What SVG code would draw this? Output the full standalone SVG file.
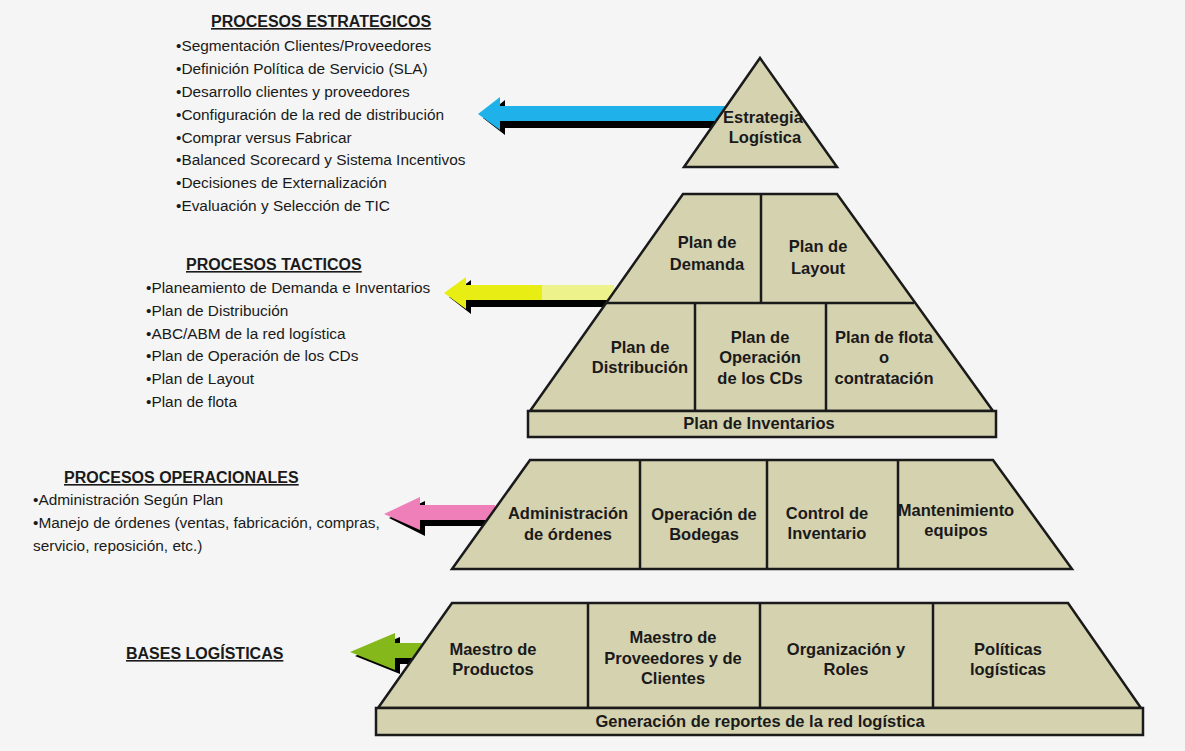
<svg xmlns="http://www.w3.org/2000/svg" width="1185" height="751" viewBox="0 0 1185 751">
<style>
.s{fill:#d5d2b0;stroke:#1a1a1a;stroke-width:2.5}
.d{stroke:#1a1a1a;stroke-width:2.5}
.t{font-family:"Liberation Sans",Arial,sans-serif;font-weight:bold;font-size:16.5px;fill:#1a1a1a;text-anchor:middle}
.l{font-family:"Liberation Sans",Arial,sans-serif;font-size:15.4px;fill:#1a1a1a}
.h{font-family:"Liberation Sans",Arial,sans-serif;font-weight:bold;font-size:16px;fill:#1a1a1a;text-decoration:underline}
</style>
<rect width="1185" height="751" fill="#f5f5f5"/>
<g id="connectors">
<path d="M500 108 L730 108 L730 124 L500 124 L500 131 L478 114 L500 96 Z" fill="#000" transform="translate(5,4)"/>
<path d="M500 106 L730 106 L730 121 L500 121 L500 130 L478 114 L500 97 Z" fill="#1fb2ea"/>
<path d="M466 287 L612 287 L612 303 L466 303 L466 310 L444 293 L466 276 Z" fill="#000" transform="translate(5,4)"/>
<path d="M466 285 L542 285 L542 300 L466 300 L466 309 L444 293 L466 277 Z" fill="#e8ee14"/>
<rect x="542" y="285" width="72" height="15" fill="#eef28a"/>
<path d="M420 507 L495 507 L495 522 L420 522 L420 532 L384 514 L420 497 Z" fill="#000" transform="translate(5,4)"/>
<path d="M420 505 L495 505 L495 520 L420 520 L420 530 L384 514 L420 497 Z" fill="#ee7fb8"/>
<path d="M395 645 L430 645 L430 660 L395 660 L395 670 L350 652 L395 633 Z" fill="#000" transform="translate(5,4)"/>
<path d="M395 643 L432 643 L432 658 L395 658 L395 670 L350 652 L395 633 Z" fill="#85b81a"/>
</g>
<g id="estrategia">
<path class="s" d="M760 58 L837 167 L684 167 Z"/>
<text class="t" x="763" y="123">Estrategia</text><text class="t" x="765" y="143">Logística</text>
</g>
<g id="tactico">
<path class="s" d="M683 194 L837 194 L993 411 L530 411 Z"/>
<line class="d" x1="606" y1="303" x2="914" y2="303"/>
<line class="d" x1="761" y1="194" x2="761" y2="303"/>
<line class="d" x1="695" y1="303" x2="695" y2="411"/>
<line class="d" x1="826" y1="303" x2="826" y2="411"/>
<rect class="s" x="528" y="411" width="468" height="26"/>
<text class="t" x="707" y="248">Plan de</text><text class="t" x="707" y="270">Demanda</text>
<text class="t" x="818" y="252">Plan de</text><text class="t" x="818" y="274">Layout</text>
<text class="t" x="640" y="353">Plan de</text><text class="t" x="640" y="373">Distribución</text>
<text class="t" x="760" y="343">Plan de</text><text class="t" x="760" y="363">Operación</text><text class="t" x="760" y="384">de los CDs</text>
<text class="t" x="884" y="343">Plan de flota</text><text class="t" x="884" y="363">o</text><text class="t" x="884" y="384">contratación</text>
<text class="t" x="759" y="429">Plan de Inventarios</text>
</g>
<g id="operacional">
<path class="s" d="M530 460 L993 460 L1072 569 L452 569 Z"/>
<line class="d" x1="640" y1="460" x2="640" y2="569"/>
<line class="d" x1="767" y1="460" x2="767" y2="569"/>
<line class="d" x1="898" y1="460" x2="898" y2="569"/>
<text class="t" x="568" y="519">Administración</text><text class="t" x="568" y="540">de órdenes</text>
<text class="t" x="704" y="520">Operación de</text><text class="t" x="704" y="540">Bodegas</text>
<text class="t" x="827" y="519">Control de</text><text class="t" x="827" y="539">Inventario</text>
<text class="t" x="956" y="516">Mantenimiento</text><text class="t" x="956" y="536">equipos</text>
</g>
<g id="bases">
<path class="s" d="M452 603 L1068 603 L1141 708 L378 708 Z"/>
<line class="d" x1="588" y1="603" x2="588" y2="708"/>
<line class="d" x1="760" y1="603" x2="760" y2="708"/>
<line class="d" x1="933" y1="603" x2="933" y2="708"/>
<rect class="s" x="376" y="708" width="767" height="27"/>
<text class="t" x="493" y="655">Maestro de</text><text class="t" x="493" y="675">Productos</text>
<text class="t" x="673" y="643">Maestro de</text><text class="t" x="673" y="664">Proveedores y de</text><text class="t" x="673" y="684">Clientes</text>
<text class="t" x="846" y="655">Organización y</text><text class="t" x="846" y="675">Roles</text>
<text class="t" x="1008" y="655">Políticas</text><text class="t" x="1008" y="675">logísticas</text>
<text class="t" x="760" y="727">Generación de reportes de la red logística</text>
</g>
<g id="lista-estrategicos">
<text class="h" x="211" y="27">PROCESOS ESTRATEGICOS</text>
<text class="l" x="176" y="51">•Segmentación Clientes/Proveedores</text>
<text class="l" x="176" y="74">•Definición Política de Servicio (SLA)</text>
<text class="l" x="176" y="97">•Desarrollo clientes y proveedores</text>
<text class="l" x="176" y="120">•Configuración de la red de distribución</text>
<text class="l" x="176" y="143">•Comprar versus Fabricar</text>
<text class="l" x="176" y="165">•Balanced Scorecard y Sistema Incentivos</text>
<text class="l" x="176" y="188">•Decisiones de Externalización</text>
<text class="l" x="176" y="211">•Evaluación y Selección de TIC</text>
</g>
<g id="lista-tacticos">
<text class="h" x="186" y="270">PROCESOS TACTICOS</text>
<text class="l" x="146" y="293">•Planeamiento de Demanda e Inventarios</text>
<text class="l" x="146" y="316">•Plan de Distribución</text>
<text class="l" x="146" y="339">•ABC/ABM de la red logística</text>
<text class="l" x="146" y="361">•Plan de Operación de los CDs</text>
<text class="l" x="146" y="384">•Plan de Layout</text>
<text class="l" x="146" y="407">•Plan de flota</text>
</g>
<g id="lista-operacionales">
<text class="h" x="64" y="483">PROCESOS OPERACIONALES</text>
<text class="l" x="33" y="505">•Administración Según Plan</text>
<text class="l" x="33" y="528">•Manejo de órdenes (ventas, fabricación, compras,</text>
<text class="l" x="33" y="551">servicio, reposición, etc.)</text>
</g>
<g id="lista-bases">
<text class="h" x="126" y="659">BASES LOGÍSTICAS</text>
</g>
</svg>
